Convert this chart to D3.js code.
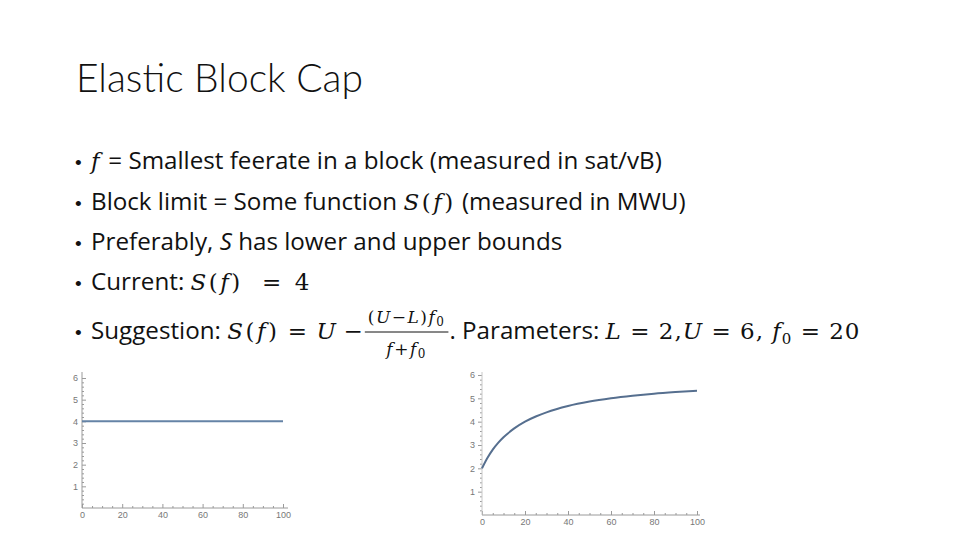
<!DOCTYPE html>
<html>
<head>
<meta charset="utf-8">
<script src="https://cdn.jsdelivr.net/npm/d3@7"></script>
<style>
  html, body { margin: 0; padding: 0; background: #fff; }
  svg { display: block; }
  svg text { white-space: pre; }
  .title { font-family: Lato, "Open Sans", sans-serif; fill: #111; }
  .body-text { font-family: "Open Sans", Lato, sans-serif; fill: #111; }
  .bullet { font-family: "Liberation Sans", Arial, sans-serif; fill: #111; }
  .math { font-family: "DejaVu Serif", "Liberation Serif", serif; }
  .tick text { font-family: "Liberation Sans", Arial, sans-serif; fill: #777; }
</style>
</head>
<body>
<div id="slide"></div>
<script>
// current rule: flat 4 MWU
const currentFee = [0, 100];
const currentLimit = [4, 4];

// suggested rule
const suggestedFee = [0, 2.5, 5, 7.5, 10, 15, 20, 25, 30, 40, 50, 60, 70, 80, 90, 100];
const suggestedLimit = [2, 2.44, 2.8, 3.09, 3.33, 3.71, 4, 4.22, 4.4, 4.67, 4.86, 5, 5.11, 5.2, 5.27, 5.33];

const xTickValues = [0, 20, 40, 60, 80, 100];
const yTickValues = [1, 2, 3, 4, 5, 6];

const W = 960, H = 540;
const svg = d3.select("#slide").append("svg")
    .attr("width", W)
    .attr("height", H);

// Title
svg.append("text")
    .attr("x", 76)
    .attr("y", 92)
    .attr("class", "title")
    .style("font-weight", 300)
    .style("font-size", "39px")
    .text("Elastic Block Cap");

// Bullet lines
const lineY = [169, 210, 250, 290, 339];
const mathSize = 23;
lineY.forEach(y => {
    svg.append("text")
        .attr("x", 75)
        .attr("y", y)
        .attr("class", "bullet")
        .style("font-size", "19px")
        .text("\u2022");
});

// parts: t text, m math (value = letter-spacing), it italic, sub subscript
function addLine(y, parts, x = 91) {
    const t = svg.append("text")
        .attr("x", x)
        .attr("y", y)
        .attr("class", "body-text")
        .style("font-size", "22px");
    parts.forEach(p => {
        const s = t.append("tspan").text(p.t);
        if (p.m !== undefined) s.attr("class", "math").style("font-size", mathSize + "px").style("letter-spacing", p.m + "px");
        if (p.it) s.style("font-style", "italic");
        if (p.sub) s.attr("dy", 5).style("font-size", "15px");
        if (p.back) s.attr("dy", -5);
    });
    return t;
}

// fit body size so the first line spans like the slide (x 91 -> 663)
const probe = addLine(lineY[0], [
    {t: "f", m: 2.5, it: true},
    {t: " = Smallest feerate in a block (measured in sat/vB)"}
]);
const bodySize = 22 * 572 / probe.node().getComputedTextLength();
probe.remove();

function line(y, parts, x) {
    const t = addLine(y, parts, x);
    t.style("font-size", bodySize + "px");
    return t;
}

const sOfF = [
    {t: "S", m: 2.5, it: true},
    {t: "(", m: 2.5},
    {t: "f", m: 2.5, it: true},
    {t: ")", m: 2.5}
];

line(lineY[0], [
    {t: "f", m: 2.5, it: true},
    {t: " = Smallest feerate in a block (measured in sat/vB)"}
]);
line(lineY[1], [
    {t: "Block limit = Some function "},
    ...sOfF,
    {t: " (measured in MWU)"}
]);
line(lineY[2], [
    {t: "Preferably, "},
    {t: "S", it: true},
    {t: " has lower and upper bounds"}
]);
line(lineY[3], [
    {t: "Current: "},
    ...sOfF,
    {t: "\u2002\u2005=\u20024", m: 1}
]);

// Suggestion line with a stacked fraction
const sugA = line(lineY[4], [
    {t: "Suggestion: "},
    ...sOfF,
    {t: " = ", m: 1},
    {t: "U", m: 1, it: true},
    {t: "\u2005\u2212", m: 1}
]);
const fracX0 = 91 + sugA.node().getComputedTextLength() + 1;

const num = svg.append("text")
    .attr("y", lineY[4] - 16)
    .attr("class", "math")
    .style("font-size", "17px")
    .style("letter-spacing", "1.5px")
    .style("fill", "#111");
num.append("tspan").text("(");
num.append("tspan").style("font-style", "italic").text("U");
num.append("tspan").text("\u2212");
num.append("tspan").style("font-style", "italic").text("L");
num.append("tspan").text(")");
num.append("tspan").style("font-style", "italic").text("f");
num.append("tspan").attr("dy", 3).style("font-size", "12px").text("0");

const den = svg.append("text")
    .attr("y", lineY[4] + 16)
    .attr("class", "math")
    .style("font-size", "17px")
    .style("letter-spacing", "1.5px")
    .style("fill", "#111");
den.append("tspan").style("font-style", "italic").text("f");
den.append("tspan").text("+");
den.append("tspan").style("font-style", "italic").text("f");
den.append("tspan").attr("dy", 3).style("font-size", "12px").text("0");

const fracW = Math.max(num.node().getComputedTextLength(), den.node().getComputedTextLength()) + 6;
num.attr("x", fracX0 + (fracW - num.node().getComputedTextLength()) / 2);
den.attr("x", fracX0 + (fracW - den.node().getComputedTextLength()) / 2);
svg.append("line")
    .attr("x1", fracX0).attr("x2", fracX0 + fracW)
    .attr("y1", lineY[4] - 7).attr("y2", lineY[4] - 7)
    .attr("stroke", "#111")
    .attr("stroke-width", 1);

line(lineY[4], [
    {t: ". Parameters: "},
    {t: "L", m: 1, it: true},
    {t: " = 2,", m: 1},
    {t: "U", m: 1, it: true},
    {t: " = 6, ", m: 1},
    {t: "f", m: 1, it: true},
    {t: "0", m: 1, sub: true},
    {t: " = 20", m: 1, back: true}
], fracX0 + fracW + 1);

// Plot panels
function drawPanel(cfg) {
    const x = d3.scaleLinear().domain([0, 100]).range([cfg.x0, cfg.x1]);
    const y = d3.scaleLinear().domain([0, 6]).range([cfg.y0, cfg.y1]);
    const g = svg.append("g");

    const minorX = d3.range(0, 101, 5).filter(v => v % 20 !== 0);
    const minorY = d3.range(0, 6.01, 0.2).map(v => +v.toFixed(1)).filter(v => Math.abs(v - Math.round(v)) > 1e-6);

    // minor ticks
    g.append("g")
        .attr("transform", `translate(0,${cfg.y0})`)
        .call(d3.axisBottom(x).tickValues(minorX).tickSize(-2).tickFormat(""))
        .call(a => a.select(".domain").remove());
    g.append("g")
        .attr("transform", `translate(${cfg.x0},0)`)
        .call(d3.axisLeft(y).tickValues(minorY).tickSize(cfg.yInward ? -2 : 2).tickFormat(""))
        .call(a => a.select(".domain").remove());

    // major ticks and labels
    const xAxis = g.append("g")
        .attr("transform", `translate(0,${cfg.y0})`)
        .call(d3.axisBottom(x).tickValues(xTickValues).tickSize(-4).tickPadding(4).tickFormat(d3.format("d")));
    const yAxis = g.append("g")
        .attr("transform", `translate(${cfg.x0},0)`)
        .call(d3.axisLeft(y).tickValues(yTickValues).tickSize(cfg.yInward ? -4 : 4)
            .tickPadding(cfg.yInward ? 4 : 3).tickFormat(d3.format("d")));

    [xAxis, yAxis].forEach(a => {
        a.select(".domain").remove();
        a.selectAll("text").style("font-size", "9px");
    });
    g.selectAll(".tick line").attr("stroke", "#9a9a9a");

    // axis lines
    g.append("line")
        .attr("x1", cfg.x0).attr("x2", cfg.xEnd)
        .attr("y1", cfg.y0).attr("y2", cfg.y0)
        .attr("stroke", "#9a9a9a");
    g.append("line")
        .attr("x1", cfg.x0).attr("x2", cfg.x0)
        .attr("y1", cfg.y0).attr("y2", cfg.yTop)
        .attr("stroke", cfg.yInward ? "#9a9a9a" : "#c8c8c8");

    const path = d3.line()
        .x((d, i) => x(cfg.fee[i]))
        .y(d => y(d))
        .curve(d3.curveMonotoneX);
    g.append("path")
        .datum(cfg.limit)
        .attr("d", path)
        .attr("fill", "none")
        .attr("stroke", cfg.color)
        .attr("stroke-width", 2);
}

drawPanel({
    x0: 82, x1: 283, xEnd: 288,
    y0: 508, y1: 378, yTop: 372,
    yInward: true,
    fee: currentFee, limit: currentLimit,
    color: "#6583a6"
});

drawPanel({
    x0: 482, x1: 697, xEnd: 700,
    y0: 515, y1: 375, yTop: 372,
    yInward: false,
    fee: suggestedFee, limit: suggestedLimit,
    color: "#566f8f"
});
</script>
</body>
</html>
